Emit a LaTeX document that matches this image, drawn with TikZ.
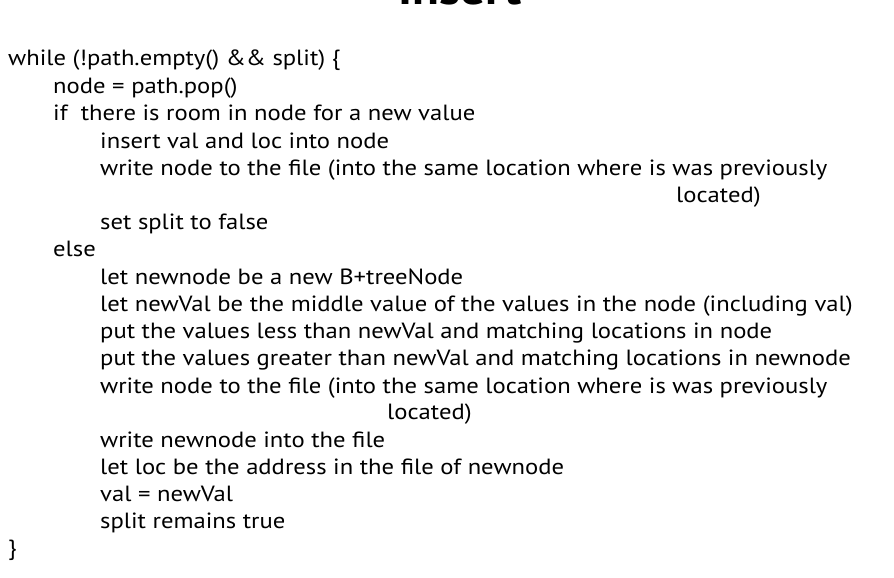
\documentclass[tikz,border=0pt]{standalone}
\usepackage{fontspec}
\setmainfont{PT Sans}[FakeStretch=1.12]
\begin{document}
\begin{tikzpicture}[x=1pt,y=-1pt,
  ln/.style={anchor=base west,inner sep=0pt,font=\fontsize{22}{26}\selectfont}]
\useasboundingbox (0,0) rectangle (894,578);
\clip (0,0) rectangle (894,578);
\node[anchor=base,inner sep=0pt,font=\bfseries\fontsize{44}{50}\selectfont] (title) at (460,5) {Insert};
\def\L#1#2#3#4{\node[ln] (#1) at (#2,#3) {#4};}
\L{a1}{8}{66}{while (!path.empty() \&\& split) \{}
\L{a2}{53}{93}{node = path.pop()}
\L{a3}{53}{120}{if\ \ there is room in node for a new value}
\L{a4}{100}{148}{insert val and loc into node}
\L{a5}{100}{175}{write node to the file (into the same location where is was previously}
\L{a6}{676}{202}{located)}
\L{a7}{100}{229}{set split to false}
\L{a8}{53}{256}{else}
\L{a9}{100}{284}{let newnode be a new B+treeNode}
\L{a10}{100}{311}{let newVal be the middle value of the values in the node (including val)}
\L{a11}{100}{338}{put the values less than newVal and matching locations in node}
\L{a12}{100}{365}{put the values greater than newVal and matching locations in newnode}
\L{a13}{100}{393}{write node to the file (into the same location where is was previously}
\L{a14}{387}{419}{located)}
\L{a15}{100}{447}{write newnode into the file}
\L{a16}{100}{474}{let loc be the address in the file of newnode}
\L{a17}{100}{501}{val = newVal}
\L{a18}{100}{528}{split remains true}
\L{a19}{8}{555}{\}}
\end{tikzpicture}
\end{document}
